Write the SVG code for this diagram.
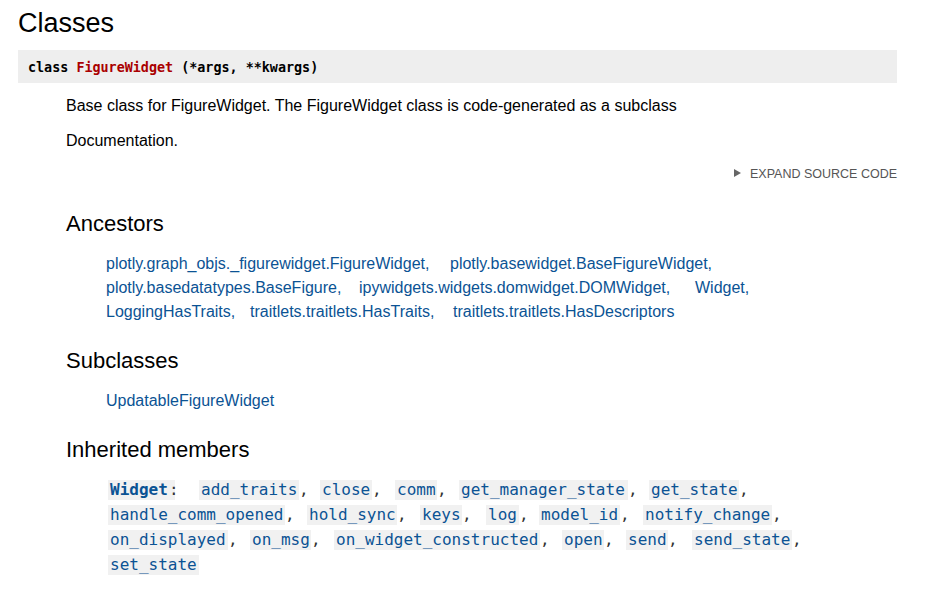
<svg xmlns="http://www.w3.org/2000/svg" width="932" height="599" viewBox="0 0 932 599">
<style>
.s{font-family:"Liberation Sans",Arial,sans-serif;fill:#000}
.l{font-family:"Liberation Sans",Arial,sans-serif;font-size:16px;fill:#0b5394}
.h{font-family:"Liberation Sans",Arial,sans-serif;font-size:22px;fill:#000}
.m{font-family:"DejaVu Sans Mono",monospace;font-size:16px;fill:#0b5394}
.c{font-family:"DejaVu Sans Mono",monospace;font-size:16px;fill:#333}
.b{fill:#f1f1f1}
</style>
<rect width="932" height="599" fill="#fff"/>
<text class="s" x="18" y="32" font-size="27">Classes</text>
<rect x="18" y="50" width="879" height="33" fill="#eeeeee"/>
<text x="28" y="72" font-family="DejaVu Sans Mono,monospace" font-size="13.4" font-weight="bold" fill="#000">class <tspan fill="#a00">FigureWidget</tspan> (*args, **kwargs)</text>
<text class="s" x="66" y="111" font-size="16">Base class for FigureWidget. The FigureWidget class is code-generated as a subclass</text>
<text class="s" x="66" y="146" font-size="16">Documentation.</text>
<polygon points="734,169 741,173 734,177" fill="#666"/>
<text x="897" y="178" text-anchor="end" font-family="Liberation Sans,Arial,sans-serif" font-size="12.5" fill="#555">EXPAND SOURCE CODE</text>
<text class="h" x="66" y="231">Ancestors</text>
<text class="l" x="106" y="269">plotly.graph_objs._figurewidget.FigureWidget,<tspan x="450">plotly.basewidget.BaseFigureWidget,</tspan></text>
<text class="l" x="106" y="293">plotly.basedatatypes.BaseFigure,<tspan x="359">ipywidgets.widgets.domwidget.DOMWidget,</tspan><tspan x="695">Widget,</tspan></text>
<text class="l" x="106" y="317">LoggingHasTraits,<tspan x="250">traitlets.traitlets.HasTraits,</tspan><tspan x="453">traitlets.traitlets.HasDescriptors</tspan></text>
<text class="h" x="66" y="368">Subclasses</text>
<text class="l" x="106" y="406">UpdatableFigureWidget</text>
<text class="h" x="66" y="457">Inherited members</text>
<g id="codes">
<rect class="b" x="108" y="480" width="67" height="20"/>
<rect class="b" x="199" y="480" width="100" height="20"/>
<rect class="b" x="320" y="480" width="52" height="20"/>
<rect class="b" x="395" y="480" width="42" height="20"/>
<rect class="b" x="459" y="480" width="169" height="20"/>
<rect class="b" x="649" y="480" width="90" height="20"/>
<rect class="b" x="108" y="505" width="177" height="20"/>
<rect class="b" x="307" y="505" width="90" height="20"/>
<rect class="b" x="420" y="505" width="42" height="20"/>
<rect class="b" x="486" y="505" width="33" height="20"/>
<rect class="b" x="539" y="505" width="81" height="20"/>
<rect class="b" x="643" y="505" width="129" height="20"/>
<rect class="b" x="108" y="530" width="120" height="20"/>
<rect class="b" x="250" y="530" width="61" height="20"/>
<rect class="b" x="334" y="530" width="206" height="20"/>
<rect class="b" x="562" y="530" width="42" height="20"/>
<rect class="b" x="626" y="530" width="42" height="20"/>
<rect class="b" x="692" y="530" width="100" height="20"/>
<rect class="b" x="108" y="555" width="91" height="20"/>
</g>
<text class="m" x="110" y="495" font-weight="bold" fill="#0b4a80">Widget</text><text class="c" x="169" y="495">:</text>
<text class="m" x="201" y="495">add_traits</text><text class="c" x="299" y="495">,</text>
<text class="m" x="322" y="495">close</text><text class="c" x="372" y="495">,</text>
<text class="m" x="397" y="495">comm</text><text class="c" x="437" y="495">,</text>
<text class="m" x="461" y="495">get_manager_state</text><text class="c" x="628" y="495">,</text>
<text class="m" x="651" y="495">get_state</text><text class="c" x="739" y="495">,</text>
<text class="m" x="110" y="520">handle_comm_opened</text><text class="c" x="285" y="520">,</text>
<text class="m" x="309" y="520">hold_sync</text><text class="c" x="397" y="520">,</text>
<text class="m" x="422" y="520">keys</text><text class="c" x="462" y="520">,</text>
<text class="m" x="488" y="520">log</text><text class="c" x="519" y="520">,</text>
<text class="m" x="541" y="520">model_id</text><text class="c" x="620" y="520">,</text>
<text class="m" x="645" y="520">notify_change</text><text class="c" x="772" y="520">,</text>
<text class="m" x="110" y="545">on_displayed</text><text class="c" x="228" y="545">,</text>
<text class="m" x="252" y="545">on_msg</text><text class="c" x="311" y="545">,</text>
<text class="m" x="336" y="545">on_widget_constructed</text><text class="c" x="540" y="545">,</text>
<text class="m" x="564" y="545">open</text><text class="c" x="604" y="545">,</text>
<text class="m" x="628" y="545">send</text><text class="c" x="668" y="545">,</text>
<text class="m" x="694" y="545">send_state</text><text class="c" x="792" y="545">,</text>
<text class="m" x="110" y="570">set_state</text>
</svg>
